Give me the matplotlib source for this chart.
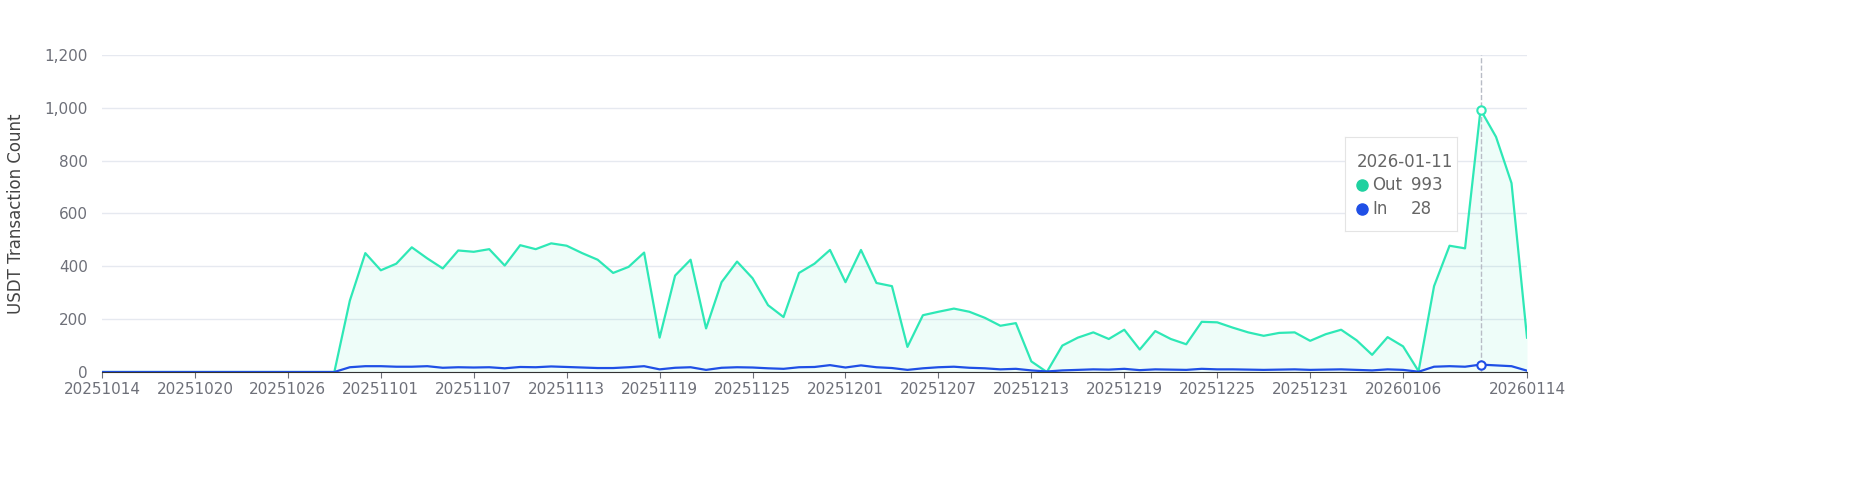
import matplotlib.pyplot as plt
import pandas as pd
import numpy as np

dates = pd.date_range('2025-10-14', '2026-01-14', freq='D')
out_vals = [0]*16 + [270, 450, 385, 410, 472, 430, 392, 460, 455, 465, 403, 480, 465, 487, 478,
    450, 425, 375, 398, 452, 130, 365, 425, 165, 340, 418, 355, 253, 208, 375, 410, 462, 340,
    462, 337, 325, 95, 215, 228, 240, 228, 205, 175, 185, 40, 0, 100, 130, 150, 125, 160, 85,
    155, 125, 105, 190, 188, 168, 150, 137, 148, 150, 118, 143, 160, 120, 65, 132, 97, 3, 325,
    478, 468, 993, 890, 715, 130]
in_vals = [0]*16 + [18, 22, 22, 20, 20, 22, 16, 18, 17, 18, 14, 19, 18, 21, 19,
    17, 15, 15, 18, 22, 10, 16, 18, 8, 16, 18, 17, 14, 12, 18, 19, 26, 17,
    25, 18, 15, 8, 14, 18, 20, 16, 14, 10, 12, 6, 2, 6, 8, 10, 9, 12, 7,
    10, 9, 8, 12, 10, 10, 9, 8, 9, 10, 8, 9, 10, 8, 6, 10, 8, 1, 20,
    22, 20, 28, 25, 22, 5]
labels = [d.strftime('%Y%m%d') for d in dates]

out_c = '#2ee8b6'
in_c = '#1f4fe6'
x = np.arange(len(dates))

fig = plt.figure(figsize=(18.56, 4.88), dpi=100)
ax = fig.add_axes([102/1856, 1-372/488, 1425/1856, 317/488])
ax.fill_between(x, out_vals, color=out_c, alpha=0.08, lw=0)
ax.plot(x, out_vals, color=out_c, lw=1.6)
ax.plot(x, in_vals, color=in_c, lw=1.6)
ax.axvline(89, color='#b8bcc6', ls='--', lw=1)
ax.plot(89, out_vals[89], 'o', mfc='white', mec=out_c, ms=6, mew=1.5)
ax.plot(89, in_vals[89], 'o', mfc='white', mec=in_c, ms=6, mew=1.5)

ax.set_xlim(0, len(x)-1)
ax.set_ylim(0, 1200)
ax.set_yticks(range(0, 1201, 200))
ax.set_yticklabels([f'{v:,}' for v in range(0, 1201, 200)])
tick_idx = list(x[:-3:6]) + [len(x)-1]
ax.set_xticks(tick_idx)
ax.set_xticklabels([labels[i] for i in tick_idx])
ax.grid(axis='y', color='#e6e9f0', lw=1)
ax.set_axisbelow(True)
for s in ['top', 'right', 'left']:
    ax.spines[s].set_visible(False)
ax.spines['bottom'].set_color('#333333')
ax.tick_params(axis='y', length=0, labelsize=11, colors='#6e7079', pad=10)
ax.tick_params(axis='x', length=4, labelsize=11, colors='#6e7079')
ax.set_ylabel('USDT Transaction Count', fontsize=12, color='#444444', labelpad=14)

# tooltip
tip = fig.add_axes([1345/1856, 1-231/488, 112/1856, 94/488])
tip.set_xlim(0, 112); tip.set_ylim(94, 0)
tip.set_xticks([]); tip.set_yticks([])
for s in tip.spines.values():
    s.set_color('#e4e4e4')
tip.text(12, 25, '2026-01-11', fontsize=12, color='#666666', va='center')
tip.plot(17, 48, 'o', color='#1fd1a0', ms=8)
tip.text(27, 48, 'Out', fontsize=12, color='#666666', va='center')
tip.text(66, 48, '993', fontsize=12, color='#666666', va='center')
tip.plot(17, 72, 'o', color=in_c, ms=8)
tip.text(27, 72, 'In', fontsize=12, color='#666666', va='center')
tip.text(66, 72, '28', fontsize=12, color='#666666', va='center')

fig.savefig('out.png', dpi=100)
